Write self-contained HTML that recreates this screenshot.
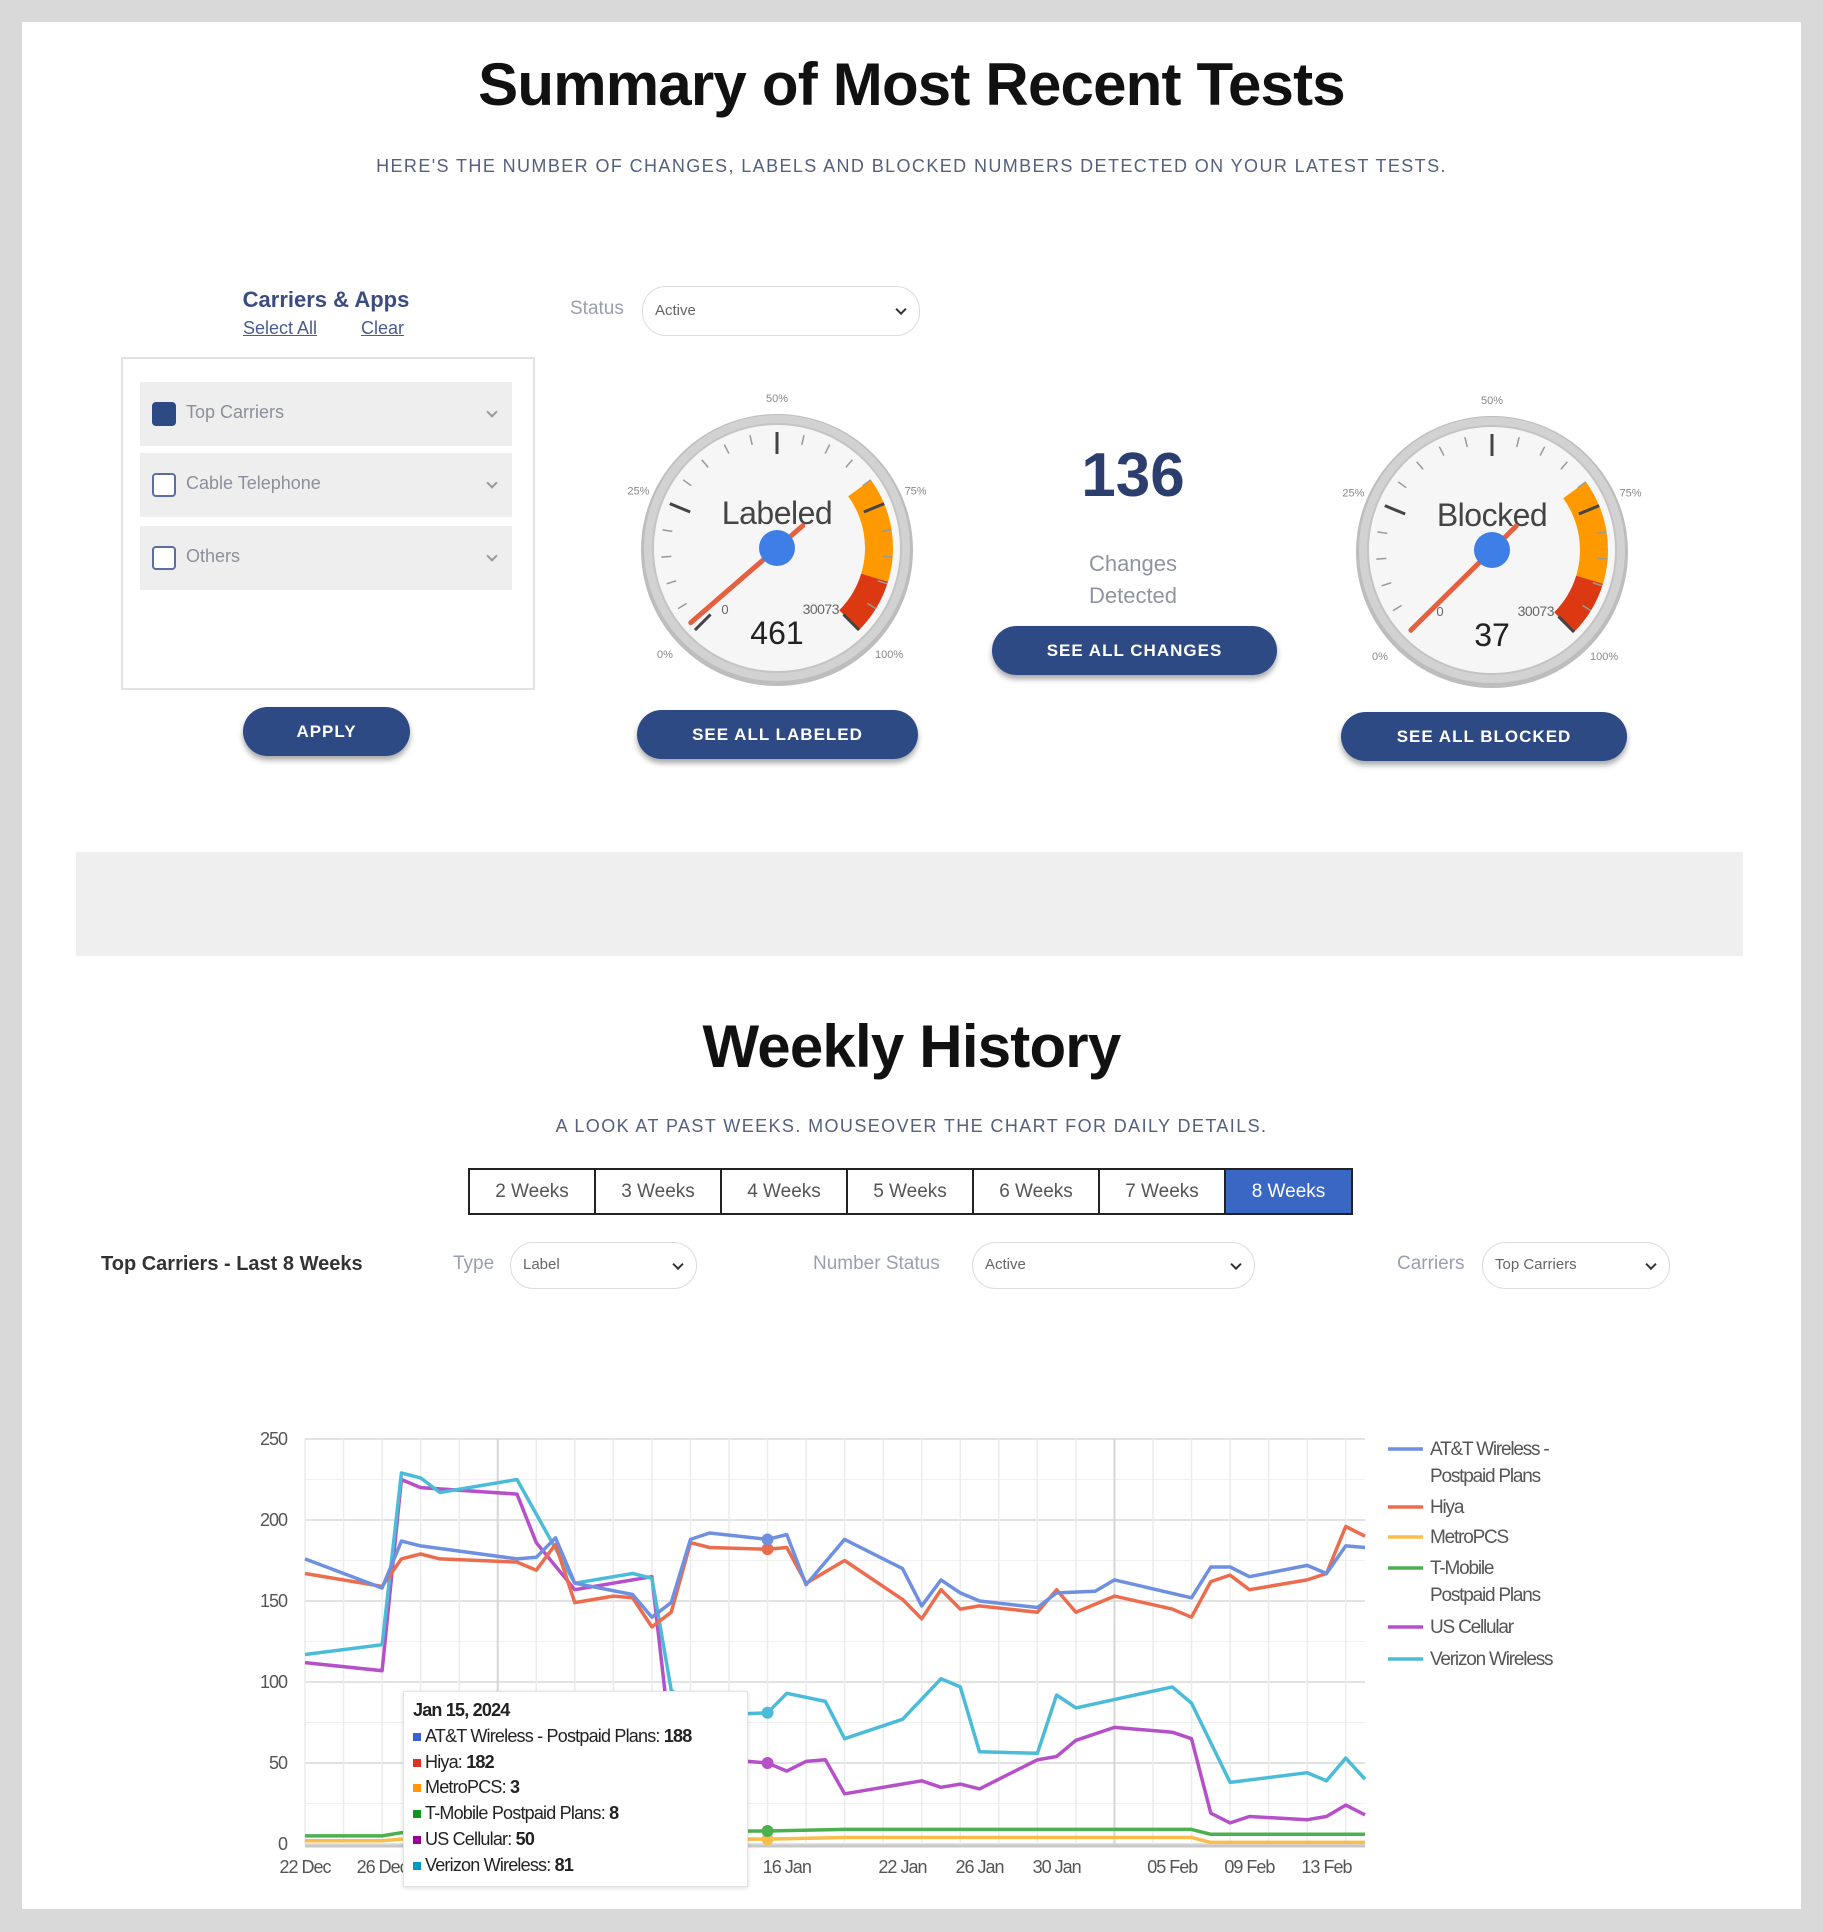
<!DOCTYPE html>
<html><head><meta charset="utf-8">
<style>
*{box-sizing:border-box;margin:0;padding:0}
body{width:1823px;height:1932px;background:#d9d9d9;font-family:"Liberation Sans",sans-serif;position:relative;overflow:hidden}
#page{position:absolute;left:22px;top:22px;width:1779px;height:1887px;background:#fff}
.abs{position:absolute}
.title{position:absolute;left:0;width:1823px;text-align:center;font-weight:bold;color:#111;font-size:60px;letter-spacing:-0.8px}
.sub{position:absolute;left:0;width:1823px;text-align:center;color:#55607e;font-size:18px;letter-spacing:1.4px}
.btn{position:absolute;background:#2e4a85;color:#fff;border-radius:26px;font-weight:bold;font-size:17px;text-align:center;letter-spacing:1px;box-shadow:0 4px 6px rgba(0,0,0,0.35)}
.sel{position:absolute;border:1.5px solid #dcdcdc;border-radius:24px;background:#fff;font-size:15px;color:#666;padding-left:12px}
.sel .chev{position:absolute;right:14px;top:50%;width:8px;height:8px;border-right:2px solid #333;border-bottom:2px solid #333;transform:translateY(-70%) rotate(45deg)}
.lbl{position:absolute;color:#9a9fb0;font-size:19px}
.row{position:absolute;left:140px;width:372px;height:64px;background:#eeeeee}
.cb{position:absolute;left:12px;top:20px;width:24px;height:24px;border:2.5px solid #5a6ea0;border-radius:4px;background:#fff}
.row span{position:absolute;left:46px;top:20px;font-size:18px;color:#8a8f9a}
.row .chev{position:absolute;right:16px;top:26px;width:8px;height:8px;border-right:2px solid #999;border-bottom:2px solid #999;transform:rotate(45deg)}
.wk{position:absolute;top:0;height:47px;border:2px solid #222;font-size:19px;color:#555;text-align:center;line-height:43px;background:#fff}
.tt{position:absolute;left:413px;font-size:18px;color:#222;letter-spacing:-0.8px;white-space:nowrap}
.tt b{font-weight:bold}
.sq{display:inline-block;width:8px;height:8px;margin-right:4px;vertical-align:middle}
</style></head><body>
<div id="page"></div>

<div class="title" style="top:50px">Summary of Most Recent Tests</div>
<div class="sub" style="top:156px">HERE'S THE NUMBER OF CHANGES, LABELS AND BLOCKED NUMBERS DETECTED ON YOUR LATEST TESTS.</div>

<div class="abs" style="left:206px;top:287px;width:240px;text-align:center;font-size:22px;font-weight:bold;color:#3b4d80">Carriers &amp; Apps</div>
<div class="abs" style="left:243px;top:318px;font-size:18px;color:#4a5b8e;text-decoration:underline">Select All</div>
<div class="abs" style="left:361px;top:318px;font-size:18px;color:#4a5b8e;text-decoration:underline">Clear</div>

<div class="abs" style="left:121px;top:357px;width:414px;height:333px;border:2px solid #e2e2e2"></div>
<div class="row" style="top:382px"><div class="cb" style="background:#2e4a85;border-color:#2e4a85"></div><span>Top Carriers</span><div class="chev"></div></div>
<div class="row" style="top:453px"><div class="cb"></div><span>Cable Telephone</span><div class="chev"></div></div>
<div class="row" style="top:526px"><div class="cb"></div><span>Others</span><div class="chev"></div></div>
<div class="btn" style="left:243px;top:707px;width:167px;height:49px;line-height:49px">APPLY</div>

<div class="lbl" style="left:570px;top:298px">Status</div>
<div class="sel" style="left:642px;top:286px;width:278px;height:50px;line-height:47px">Active<div class="chev"></div></div>

<div class="abs" style="left:1033px;top:440px;width:200px;text-align:center;font-size:62px;font-weight:bold;color:#2c3e6e">136</div>
<div class="abs" style="left:1033px;top:548px;width:200px;text-align:center;font-size:22px;color:#8f94a0;line-height:32px">Changes<br>Detected</div>
<div class="btn" style="left:992px;top:626px;width:285px;height:49px;line-height:49px">SEE ALL CHANGES</div>
<div class="btn" style="left:637px;top:710px;width:281px;height:49px;line-height:49px">SEE ALL LABELED</div>
<div class="btn" style="left:1341px;top:712px;width:286px;height:49px;line-height:49px">SEE ALL BLOCKED</div>

<svg id="gauges" class="abs" style="left:0;top:0" width="1823" height="800"></svg>

<div class="abs" style="left:76px;top:852px;width:1667px;height:104px;background:#efefef"></div>

<div class="title" style="top:1012px">Weekly History</div>
<div class="sub" style="top:1116px">A LOOK AT PAST WEEKS. MOUSEOVER THE CHART FOR DAILY DETAILS.</div>

<div class="abs" style="left:468px;top:1168px;width:885px;height:47px">
<div class="wk" style="left:0;width:128px">2 Weeks</div>
<div class="wk" style="left:126px;width:128px">3 Weeks</div>
<div class="wk" style="left:252px;width:128px">4 Weeks</div>
<div class="wk" style="left:378px;width:128px">5 Weeks</div>
<div class="wk" style="left:504px;width:128px">6 Weeks</div>
<div class="wk" style="left:630px;width:128px">7 Weeks</div>
<div class="wk" style="left:756px;width:129px;background:#3a66c4;color:#fff">8 Weeks</div>
</div>

<div class="abs" style="left:101px;top:1253px;font-size:20px;font-weight:bold;color:#333">Top Carriers - Last 8 Weeks</div>
<div class="lbl" style="left:453px;top:1253px">Type</div>
<div class="sel" style="left:510px;top:1242px;width:187px;height:47px;line-height:44px">Label<div class="chev"></div></div>
<div class="lbl" style="left:813px;top:1253px">Number Status</div>
<div class="sel" style="left:972px;top:1242px;width:283px;height:47px;line-height:44px">Active<div class="chev"></div></div>
<div class="lbl" style="left:1397px;top:1253px">Carriers</div>
<div class="sel" style="left:1482px;top:1242px;width:188px;height:47px;line-height:44px">Top Carriers<div class="chev"></div></div>

<svg id="chart" class="abs" style="left:0;top:0" width="1823" height="1932"></svg>

<div id="tooltip" class="abs" style="left:403px;top:1691px;width:345px;height:196px;background:#fff;border:1px solid #e4e4e4;box-shadow:0 1px 4px rgba(0,0,0,0.15)"></div>
<div class="tt" style="top:1700px;font-weight:bold">Jan 15, 2024</div>
<div class="tt" style="top:1726px"><span class="sq" style="background:#3b5fd6"></span>AT&amp;T Wireless - Postpaid Plans: <b>188</b></div>
<div class="tt" style="top:1752px"><span class="sq" style="background:#e0301e"></span>Hiya: <b>182</b></div>
<div class="tt" style="top:1777px"><span class="sq" style="background:#ff9900"></span>MetroPCS: <b>3</b></div>
<div class="tt" style="top:1803px"><span class="sq" style="background:#109618"></span>T-Mobile Postpaid Plans: <b>8</b></div>
<div class="tt" style="top:1829px"><span class="sq" style="background:#990099"></span>US Cellular: <b>50</b></div>
<div class="tt" style="top:1855px"><span class="sq" style="background:#0099c6"></span>Verizon Wireless: <b>81</b></div>

<script>
// ---- chart data ----
const dayLabels = ["22 Dec","26 Dec","16 Jan","22 Jan","26 Jan","30 Jan","05 Feb","09 Feb","13 Feb"];
const dayLabelIdx = [0,4,25,31,35,39,45,49,53];
const yTicks = [0,50,100,150,200,250];
const seriesNames = ["AT&T Wireless - Postpaid Plans","Hiya","MetroPCS","T-Mobile Postpaid Plans","US Cellular","Verizon Wireless"];
const seriesColors = ["#6f8fe0","#ec6c4e","#fbbd4a","#4cb050","#b550c8","#4bbcd8"];
const N = null;
const attValues = [176,N,N,N,158,187,184,N,N,N,N,176,177,189,161,N,N,154,140,149,188,192,N,N,188,191,160,N,188,N,N,170,147,163,155,150,N,N,146,155,N,156,163,N,N,N,152,171,171,165,N,N,172,167,184,183];
const hiyaValues = [167,N,N,N,159,176,179,176,N,N,N,174,169,185,149,N,153,152,134,143,186,183,N,N,182,183,161,N,175,N,N,151,139,157,145,147,N,N,143,157,143,N,153,N,N,145,140,162,166,157,N,N,163,167,196,190];
const metroValues = [2,N,N,N,2,3,N,N,N,N,N,N,N,N,N,N,N,N,N,N,N,N,N,N,3,N,N,N,4,N,N,N,N,N,N,N,N,N,N,N,N,N,N,N,N,N,4,1,N,N,N,N,N,N,N,1];
const tmobileValues = [5,N,N,N,5,7,N,N,N,N,N,N,N,N,N,N,N,N,N,N,N,N,N,N,8,N,N,N,9,N,N,N,N,N,N,N,N,N,N,N,N,N,N,N,N,N,9,6,N,N,N,N,N,N,N,6];
const usValues = [112,N,N,N,107,225,220,N,N,N,N,216,186,N,157,N,N,163,165,60,N,N,52,N,50,45,51,52,31,N,N,N,39,35,37,34,N,N,52,54,64,N,72,N,N,69,65,19,13,17,N,N,15,17,24,18];
const verizonValues = [117,N,N,N,123,229,226,217,N,N,N,225,N,N,161,N,N,167,164,95,85,N,80,N,81,93,N,88,65,N,N,77,N,102,97,57,N,N,56,92,84,N,N,N,N,97,87,N,38,N,N,N,44,39,53,40];
const allSeries = [attValues,hiyaValues,metroValues,tmobileValues,usValues,verizonValues];
const hoverIdx = 24;
// ---- gauge data ----
const gaugeTitles = ["Labeled","Blocked"];
const gaugeValues = [461,37];
const gaugeMax = [30073,30073];

const NS="http://www.w3.org/2000/svg";
function mk(parent,tag,attrs){const e=document.createElementNS(NS,tag);for(const k in attrs)e.setAttribute(k,attrs[k]);parent.appendChild(e);return e;}

// ---------- chart ----------
const svg=document.getElementById('chart');
const X0=305,X1=1365,Y0=1844,Y1=1439,ND=55;
const xs=d=>X0+(X1-X0)*d/ND;
const ys=v=>Y0-(Y0-Y1)*v/250;
const grid=mk(svg,'g',{});


for(let v=0;v<=250;v+=25){
  const l=mk(grid,'line',{x1:X0,x2:X1,y1:ys(v),y2:ys(v),stroke:v%50?'#f0f0f0':'#e2e2e2','stroke-width':v%50?1:2});
  
  
}
for(let d=0;d<=ND;d+=2){
  const dark=(d===10||d===42);
  const l=mk(grid,'line',{x1:xs(d),x2:xs(d),y1:Y1,y2:Y0,stroke:dark?'#d6d6d6':'#ececec','stroke-width':dark?2:1.5});
  
  
}
mk(grid,'line',{x1:X0,x2:X1,y1:Y0+2,y2:Y0+2,stroke:'#c8c8c8','stroke-width':3});
yTicks.forEach(v=>{
  const t=mk(svg,'text',{x:287,y:ys(v)+6,'text-anchor':'end','font-size':18,fill:'#555','letter-spacing':'-1'});
  t.textContent=v;
  
  
});
dayLabels.forEach((s,i)=>{
  const t=mk(svg,'text',{x:xs(dayLabelIdx[i]),y:1873,'text-anchor':'middle','font-size':18,fill:'#555','letter-spacing':'-1'});
  t.textContent=s;
  
  
});
const drawOrder=[2,3,4,5,1,0];
drawOrder.forEach(si=>{
  const vals=allSeries[si];let pts=[];
  vals.forEach((v,d)=>{if(v!==null)pts.push(xs(d).toFixed(1)+','+ys(v).toFixed(1));});
  const p=mk(svg,'polyline',{points:pts.join(' '),fill:'none',stroke:seriesColors[si],'stroke-width':3.5,'stroke-linejoin':'round'});
  
  
  if(vals[hoverIdx]!==null){
    const c=mk(svg,'circle',{cx:xs(hoverIdx),cy:ys(vals[hoverIdx]),r:6,fill:seriesColors[si]});
    
    
  }
});
const legY=[1449,1507,1537,1568,1627,1659];
const legLines=[["AT&T Wireless -","Postpaid Plans"],["Hiya"],["MetroPCS"],["T-Mobile","Postpaid Plans"],["US Cellular"],["Verizon Wireless"]];
seriesNames.forEach((n,i)=>{
  const g=mk(svg,'g',{});
  
  
  mk(g,'line',{x1:1388,x2:1423,y1:legY[i],y2:legY[i],stroke:seriesColors[i],'stroke-width':3.5});
  legLines[i].forEach((s,j)=>{
    const t=mk(g,'text',{x:1430,y:legY[i]+6+j*27,'font-size':19,fill:'#555','letter-spacing':'-1.2'});
    t.textContent=s;
  });
});

// ---------- gauges ----------
const gs=document.getElementById('gauges');
const centers=[[777,548],[1492,550]];
function pt(cx,cy,r,f){const a=(-135+270*f)*Math.PI/180;return [cx+r*Math.sin(a),cy-r*Math.cos(a)];}
function arc(cx,cy,r1,r2,f1,f2){
  const a=pt(cx,cy,r2,f1),b=pt(cx,cy,r2,f2),c=pt(cx,cy,r1,f2),d=pt(cx,cy,r1,f1);
  return `M${a[0]},${a[1]} A${r2},${r2} 0 0 1 ${b[0]},${b[1]} L${c[0]},${c[1]} A${r1},${r1} 0 0 0 ${d[0]},${d[1]}Z`;
}
gaugeTitles.forEach((title,gi)=>{
  const [cx,cy]=centers[gi];
  const g=mk(gs,'g',{});
  
  
  mk(g,'circle',{cx:cx,cy:cy+2,r:136,fill:'#bdbdbd'});
  mk(g,'circle',{cx:cx,cy:cy,r:133,fill:'#d2d2d2'});
  mk(g,'circle',{cx:cx,cy:cy,r:124,fill:'#f6f6f6',stroke:'#c4c4c4','stroke-width':2});
  mk(g,'path',{d:arc(cx,cy,88,116,0.70,0.896),fill:'#ff9900'});
  mk(g,'path',{d:arc(cx,cy,88,116,0.896,1),fill:'#dc3912'});
  for(let k=0;k<=20;k++){
    const f=k/20,major=k%5===0;
    const a=pt(cx,cy,116,f),b=pt(cx,cy,major?94:106,f);
    mk(g,'line',{x1:a[0],y1:a[1],x2:b[0],y2:b[1],stroke:major?'#444':'#999','stroke-width':major?3:1.5});
  }
  [['0%',0,-6],['25%',0.25,0],['50%',0.5,0],['75%',0.75,0],['100%',1,6]].forEach(([s,f,dx])=>{
    const p=pt(cx,cy,150,f);
    const t=mk(g,'text',{x:p[0]+dx,y:p[1]+4,'text-anchor':'middle','font-size':11,fill:'#888'});
    t.textContent=s;
  });
  const lt=mk(g,'text',{x:cx,y:cy-24,'text-anchor':'middle','font-size':32,fill:'#444','letter-spacing':'-0.5'});
  lt.textContent=title;
  const z=mk(g,'text',{x:cx-52,y:cy+66,'text-anchor':'middle','font-size':13,fill:'#666'});z.textContent='0';
  const m=mk(g,'text',{x:cx+62,y:cy+66,'text-anchor':'end','font-size':14,fill:'#666','letter-spacing':'-0.5'});m.textContent=gaugeMax[gi];
  const v=mk(g,'text',{x:cx,y:cy+96,'text-anchor':'middle','font-size':32,fill:'#222'});v.textContent=gaugeValues[gi];
  const f=gaugeValues[gi]/gaugeMax[gi];
  const tip=pt(cx,cy,114,f),tail=pt(cx,cy,-34,f);
  const nd=mk(g,'line',{x1:tail[0],y1:tail[1],x2:tip[0],y2:tip[1],stroke:'#e4603f','stroke-width':5,'stroke-linecap':'round'});
  
  
  mk(g,'circle',{cx:cx,cy:cy,r:18,fill:'#3d7fe6'});
});
</script>
</body></html>
